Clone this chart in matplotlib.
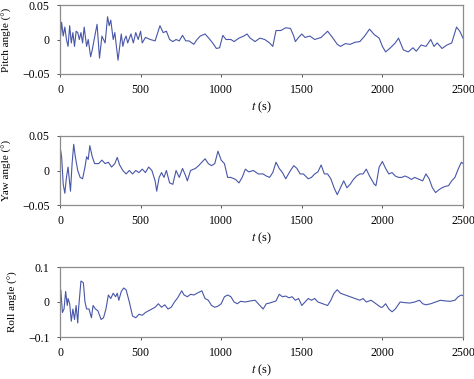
import matplotlib
matplotlib.use("Agg")
import matplotlib.pyplot as plt

plt.rcParams['font.family'] = ['Liberation Serif', 'DejaVu Serif']
plt.rcParams['mathtext.fontset'] = 'stix'

pitch_t = [0, 10, 20, 30, 40, 50, 60, 70, 80, 90, 100, 110, 120, 130, 140, 150, 165, 175, 190, 200,
           220, 230, 245, 260, 280, 295, 305, 315, 330, 340, 360, 380, 390, 400, 410, 420, 440, 455,
           470, 485, 500, 510, 530, 560, 590, 620, 640, 660, 680, 700, 720, 740, 760, 780, 800, 830,
           850, 870, 900, 930, 950, 970, 990, 1010, 1030, 1060, 1080, 1110, 1140, 1160, 1180, 1210,
           1240, 1270, 1300, 1320, 1340, 1370, 1400, 1430, 1450, 1460, 1480, 1500, 1520, 1550, 1580,
           1620, 1660, 1690, 1720, 1740, 1770, 1800, 1830, 1860, 1890, 1920, 1950, 1980, 2000, 2020,
           2050, 2080, 2100, 2130, 2160, 2190, 2210, 2240, 2270, 2300, 2320, 2340, 2370, 2400, 2430,
           2460, 2480, 2500]
pitch_v = [-0.005, 0.025, 0.005, 0.018, 0.0, -0.01, 0.02, -0.005, 0.01, -0.01, 0.012, 0.01, 0.0,
           0.01, -0.005, 0.018, -0.01, 0.0, -0.025, -0.015, 0.01, 0.022, -0.027, 0.005, -0.005,
           0.033, 0.02, 0.028, 0.0, 0.01, -0.03, 0.008, -0.01, 0.0, 0.005, -0.005, 0.008, -0.005,
           0.01, 0.0, 0.012, -0.005, 0.003, 0.0, -0.002, 0.02, 0.01, 0.012, 0.0, -0.003, 0.0,
           -0.002, 0.006, -0.002, -0.002, -0.007, 0.0, 0.005, 0.008, 0.0, -0.006, -0.013, -0.012,
           0.006, 0.0, 0.0, -0.003, 0.002, 0.005, 0.008, 0.002, -0.003, 0.002, 0.0, -0.005, -0.01,
           0.013, 0.013, 0.017, 0.016, 0.005, -0.003, 0.003, 0.008, 0.003, 0.005, 0.0, 0.003, 0.012,
           0.003, -0.007, -0.01, -0.006, -0.007, -0.004, -0.003, 0.005, 0.015, 0.007, 0.002, -0.01,
           -0.018, -0.012, -0.005, 0.002, -0.015, -0.018, -0.012, -0.017, -0.008, -0.01, 0.0, -0.01,
           -0.005, -0.013, -0.008, -0.005, 0.018, 0.012, 0.002]

yaw_t = [0, 10, 20, 30, 40, 50, 65, 75, 85, 95, 110, 125, 140, 155, 165, 175, 185, 200, 215, 240,
         260, 280, 300, 320, 340, 355, 370, 390, 410, 430, 450, 470, 490, 510, 530, 550, 570, 590,
         600, 615, 630, 645, 660, 680, 700, 720, 740, 760, 780, 790, 810, 840, 860, 880, 900, 920,
         940, 960, 980, 1000, 1020, 1040, 1060, 1090, 1110, 1130, 1150, 1170, 1200, 1230, 1260,
         1280, 1300, 1320, 1340, 1360, 1380, 1400, 1430, 1450, 1470, 1490, 1510, 1540, 1560, 1580,
         1600, 1620, 1640, 1660, 1680, 1700, 1720, 1740, 1760, 1780, 1800, 1820, 1840, 1860, 1880,
         1900, 1920, 1950, 1960, 1980, 2000, 2020, 2040, 2060, 2080, 2100, 2120, 2140, 2160, 2180,
         2200, 2220, 2250, 2270, 2290, 2310, 2330, 2350, 2370, 2390, 2410, 2430, 2450, 2470, 2490,
         2500]
yaw_v = [0.035, 0.02, -0.02, -0.033, -0.01, 0.005, -0.03, 0.01, 0.038, 0.02, 0.0, -0.01, -0.012,
         0.005, 0.02, 0.016, 0.036, 0.02, 0.01, 0.01, 0.015, 0.01, 0.012, 0.005, 0.01, 0.019, 0.008,
         0.0, -0.005, 0.0, -0.005, 0.0, -0.003, 0.002, -0.003, 0.005, 0.0, -0.015, -0.03, -0.01,
         -0.003, -0.01, 0.0, -0.018, -0.02, 0.0, -0.01, 0.003, -0.008, -0.015, 0.0, 0.003, 0.007,
         0.012, 0.017, 0.01, 0.007, 0.01, 0.028, 0.015, 0.01, -0.01, -0.01, -0.013, -0.018, -0.01,
         0.002, -0.002, 0.0, -0.005, -0.005, -0.008, -0.01, -0.003, 0.012, 0.003, -0.003, -0.012,
         0.0, 0.007, 0.003, -0.005, -0.005, -0.012, -0.01, -0.005, -0.002, 0.008, -0.005, -0.005,
         -0.012, -0.025, -0.035, -0.025, -0.015, -0.025, -0.02, -0.013, -0.008, -0.005, -0.005,
         0.002, -0.008, -0.02, -0.022, 0.005, 0.013, 0.003, -0.005, -0.003, -0.008, -0.01, -0.01,
         -0.008, -0.01, -0.013, -0.01, -0.012, -0.015, -0.005, -0.012, -0.025, -0.032, -0.028,
         -0.025, -0.023, -0.022, -0.015, -0.01, 0.002, 0.012, 0.01]

roll_t = [0, 5, 15, 25, 35, 45, 50, 60, 70, 80, 90, 100, 110, 115, 130, 145, 155, 165, 180, 195,
          205, 220, 235, 255, 270, 285, 300, 315, 330, 345, 355, 365, 380, 395, 410, 430, 450, 470,
          490, 510, 530, 550, 570, 590, 610, 630, 650, 670, 690, 710, 730, 755, 770, 790, 810, 830,
          850, 880, 900, 920, 940, 960, 980, 1000, 1020, 1040, 1060, 1080, 1100, 1120, 1150, 1180,
          1210, 1240, 1260, 1280, 1300, 1320, 1340, 1360, 1380, 1400, 1420, 1440, 1460, 1480, 1500,
          1520, 1540, 1560, 1580, 1600, 1630, 1660, 1680, 1700, 1720, 1740, 1770, 1800, 1830, 1860,
          1880, 1900, 1930, 1960, 1990, 2000, 2020, 2040, 2060, 2080, 2110, 2140, 2170, 2200, 2230,
          2250, 2270, 2300, 2330, 2360, 2390, 2420, 2450, 2470, 2490, 2500]
roll_v = [0.0, 0.035, -0.03, -0.02, 0.03, -0.01, 0.01, -0.005, -0.055, -0.02, -0.05, -0.01, -0.06,
          -0.02, 0.06, 0.055, 0.0, -0.02, -0.02, -0.045, -0.01, -0.02, -0.025, -0.05, -0.045,
          -0.02, 0.02, 0.01, 0.025, 0.015, 0.025, 0.005, 0.03, 0.04, 0.035, 0.0, -0.04, -0.045,
          -0.035, -0.038, -0.03, -0.025, -0.02, -0.015, -0.005, -0.015, -0.008, -0.02, -0.015, 0.0,
          0.012, 0.032, 0.02, 0.015, 0.022, 0.02, 0.025, 0.032, 0.01, 0.005, -0.01, -0.015, -0.012,
          -0.005, 0.015, 0.02, 0.015, 0.0, -0.005, 0.002, 0.0, 0.003, 0.005, -0.01, -0.02, -0.005,
          -0.003, 0.0, 0.003, 0.022, 0.015, 0.017, 0.012, 0.015, 0.005, 0.01, -0.01, 0.0, 0.01,
          0.005, 0.01, 0.0, -0.005, -0.01, 0.005, 0.025, 0.035, 0.025, 0.02, 0.015, 0.01, 0.005,
          0.01, 0.0, 0.005, -0.005, -0.015, -0.015, -0.005, -0.02, -0.028, -0.02, 0.0, -0.002,
          -0.003, 0.0, 0.005, -0.005, -0.008, -0.005, 0.0, 0.005, 0.003, 0.002, 0.005, 0.015, 0.02,
          0.018]

panels = [
    (pitch_t, pitch_v, "Pitch angle (°)", (-0.05, 0.05), [-0.05, 0, 0.05], ["\u22120.05", "0", "0.05"]),
    (yaw_t, yaw_v, "Yaw angle (°)", (-0.05, 0.05), [-0.05, 0, 0.05], ["\u22120.05", "0", "0.05"]),
    (roll_t, roll_v, "Roll angle (°)", (-0.1, 0.1), [-0.1, 0, 0.1], ["\u22120.1", "0", "0.1"]),
]
xticks = [0, 500, 1000, 1500, 2000, 2500]

fig = plt.figure(figsize=(4.74, 3.79), dpi=100)
rects = [
    [60/474, 1 - 74/379, 403/474, 69/379],
    [60/474, 1 - 205/379, 403/474, 69/379],
    [60/474, 1 - 337/379, 403/474, 70/379],
]
line_color = "#4856a8"
spine_color = "#8c8c8c"
for rect, (t, v, lab, ylim, yt, ytl) in zip(rects, panels):
    ax = fig.add_axes(rect)
    ax.plot(t, v, color=line_color, lw=0.8)
    ax.set_xlim(0, 2500)
    ax.set_ylim(*ylim)
    ax.set_xticks(xticks)
    ax.set_xticklabels([str(x) for x in xticks], fontsize=8.5)
    ax.set_yticks(yt)
    ax.set_yticklabels(ytl, fontsize=8.5)
    for s in ax.spines.values():
        s.set_color(spine_color)
        s.set_linewidth(0.9)
    ax.tick_params(direction='out', length=2.5, width=0.7, color='#555555')
    ax.tick_params(axis='x', pad=4.5)
    ax.tick_params(axis='y', pad=5)
    ax.set_ylabel(lab, fontsize=8, labelpad=7)
    ax.set_xlabel("$t$ (s)", fontsize=9, labelpad=3)

fig.savefig("out.png", dpi=100)
